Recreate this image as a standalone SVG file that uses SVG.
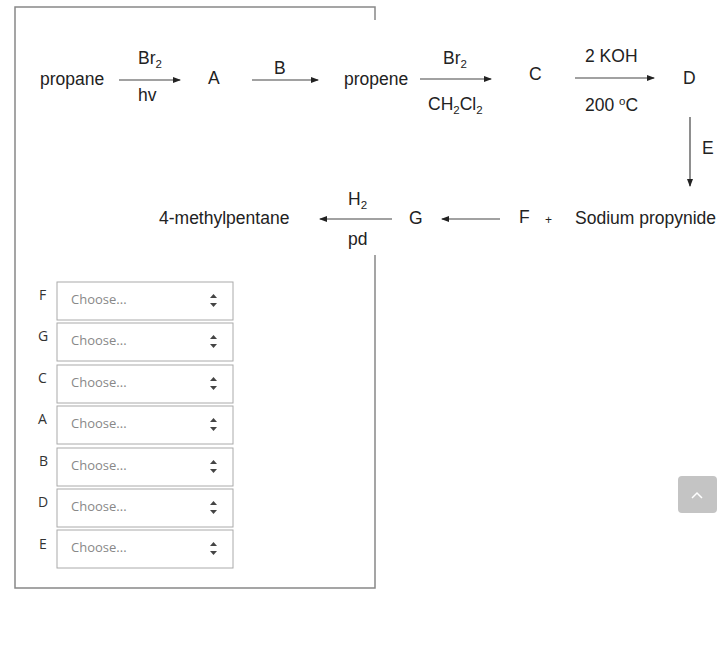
<svg xmlns="http://www.w3.org/2000/svg" width="720" height="646" viewBox="0 0 720 646">
<defs>
<marker id="ah" markerWidth="8" markerHeight="6" refX="7" refY="3" orient="auto" markerUnits="userSpaceOnUse"><path d="M0,0 L8,3 L0,6 Z" fill="#222"/></marker>
<g id="sel"><rect x="0" y="0" width="176" height="38" fill="#fff" stroke="#aaa" stroke-width="1"/><text x="14" y="22" class="ch">Choose...</text><path d="M153,16 l3.5,-4 l3.5,4 Z M153,21 l3.5,4 l3.5,-4 Z" fill="#444"/></g>
</defs>
<style>
.t{font-family:"Liberation Sans",Arial,sans-serif;font-size:17.5px;fill:#222}
.s{font-size:11.5px}
.ch{font-family:"Open Sans","Noto Sans",sans-serif;font-size:13px;fill:#888}
.lb{font-family:"Open Sans","Noto Sans",sans-serif;font-size:14px;fill:#333}
.cn{stroke:#444;stroke-width:1.2;fill:none}
</style>
<rect width="720" height="646" fill="#fff"/>
<g id="frame" fill="none" stroke="#888" stroke-width="1.5">
<path d="M375,20 V7 H15 V588 H375 V255"/>
</g>
<g id="connectors">
<line class="cn" x1="119" y1="80" x2="180" y2="80" marker-end="url(#ah)"/>
<line class="cn" x1="252" y1="80" x2="318" y2="80" marker-end="url(#ah)"/>
<line class="cn" x1="420" y1="79" x2="491" y2="79" marker-end="url(#ah)"/>
<line class="cn" x1="575" y1="78" x2="654" y2="78" marker-end="url(#ah)"/>
<line class="cn" x1="690" y1="117" x2="690" y2="186" marker-end="url(#ah)"/>
<line class="cn" x1="500" y1="219" x2="442" y2="219" marker-end="url(#ah)"/>
<line class="cn" x1="392" y1="219" x2="320" y2="219" marker-end="url(#ah)"/>
</g>
<g id="n-propane"><text class="t" x="40" y="85">propane</text></g>
<g id="r1"><text class="t" x="138" y="64">Br<tspan class="s" dy="4">2</tspan></text><text class="t" x="138" y="101">hv</text></g>
<g id="n-A"><text class="t" x="208" y="84">A</text></g>
<g id="r2"><text class="t" x="274" y="74">B</text></g>
<g id="n-propene"><text class="t" x="344" y="85">propene</text></g>
<g id="r3"><text class="t" x="443" y="64">Br<tspan class="s" dy="4">2</tspan></text><text class="t" x="428" y="110">CH<tspan class="s" dy="4">2</tspan><tspan dy="-4">Cl</tspan><tspan class="s" dy="4">2</tspan></text></g>
<g id="n-C"><text class="t" x="529" y="80">C</text></g>
<g id="r4"><text class="t" x="585" y="62">2 KOH</text><text class="t" x="585" y="111">200 <tspan class="s" dy="-6">o</tspan><tspan dy="6">C</tspan></text></g>
<g id="n-D"><text class="t" x="683" y="84">D</text></g>
<g id="r5"><text class="t" x="702" y="154">E</text></g>
<g id="n-F"><text class="t" x="519" y="223">F</text><text class="t" x="545" y="224" style="font-size:12px">+</text></g>
<g id="n-sp"><text class="t" x="575" y="224">Sodium propynide</text></g>
<g id="n-G"><text class="t" x="409" y="224">G</text></g>
<g id="r6"><text class="t" x="348" y="205">H<tspan class="s" dy="4">2</tspan></text><text class="t" x="348" y="245">pd</text></g>
<g id="n-4mp"><text class="t" x="159" y="224">4-methylpentane</text></g>
<g id="form">
<text class="lb" x="39" y="300">F</text><use href="#sel" x="57" y="282"/>
<text class="lb" x="38" y="341">G</text><use href="#sel" x="57" y="323"/>
<text class="lb" x="38" y="383">C</text><use href="#sel" x="57" y="365"/>
<text class="lb" x="38" y="424">A</text><use href="#sel" x="57" y="406"/>
<text class="lb" x="39" y="466">B</text><use href="#sel" x="57" y="448"/>
<text class="lb" x="38" y="507">D</text><use href="#sel" x="57" y="489"/>
<text class="lb" x="39" y="549">E</text><use href="#sel" x="57" y="530"/>
</g>
<g id="totop"><rect x="678" y="476" width="39" height="37" rx="4" fill="#c4c4c4"/><path d="M692,498 l5,-5 l5,5" fill="none" stroke="#fff" stroke-width="1.5"/></g>
</svg>
